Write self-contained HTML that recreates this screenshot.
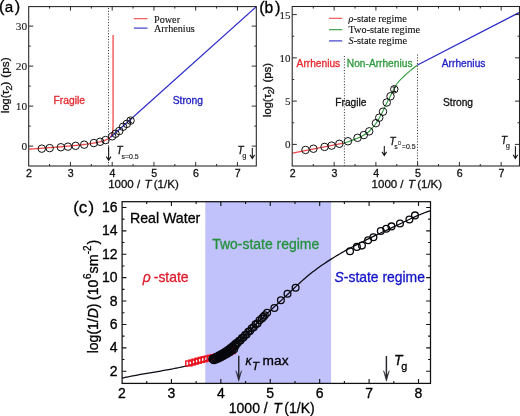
<!DOCTYPE html>
<html lang="en">
<head>
<meta charset="utf-8">
<title>Figure</title>
<style>
html,body{margin:0;padding:0;background:#fff;}
body{width:520px;height:416px;overflow:hidden;}
svg{display:block;}
text{stroke-width:0.3px;}
.sf{stroke-width:0.12px;}
</style>
</head>
<body>
<svg width="520" height="416" viewBox="0 0 520 416">
<rect width="520" height="416" fill="#ffffff"/>
<g id="panel-a">
<path d="M108.5,8V166" stroke="#3a3a3a" stroke-width="1" stroke-dasharray="1.1,1.7" fill="none"/>
<path d="M28.7,149.17L30.04,149.08L31.39,148.98L32.73,148.89L34.08,148.79L35.42,148.7L36.77,148.6L38.11,148.5L39.46,148.41L40.8,148.31L42.14,148.21L43.49,148.12L44.83,148.02L46.18,147.92L47.52,147.82L48.87,147.72L50.21,147.62L51.56,147.52L52.9,147.41L54.25,147.31L55.59,147.2L56.93,147.1L58.28,146.99L59.62,146.88L60.97,146.77L62.31,146.66L63.66,146.54L65,146.43L66.35,146.31L67.69,146.19L69.03,146.07L70.38,145.95L71.72,145.82L73.07,145.69L74.41,145.56L75.76,145.42L77.1,145.28L78.45,145.14L79.79,144.99L81.14,144.84L82.48,144.68L83.82,144.52L85.17,144.35L86.51,144.18L87.86,144L89.2,143.8L90.55,143.61L91.89,143.4L93.24,143.17L94.58,142.94L95.92,142.69L97.27,142.42L98.61,142.13L99.96,141.81L101.3,141.47L102.65,141.08L103.99,140.65L105.34,140.15L106.68,139.56L108.03,138.84L108.03,138.84L108.05,138.82L108.08,138.81L108.1,138.79L108.13,138.78L108.15,138.76L108.18,138.74L108.2,138.73L108.23,138.71L108.25,138.7L108.28,138.68L108.31,138.66L108.33,138.65L108.36,138.63L108.38,138.62L108.41,138.6L108.43,138.58L108.46,138.57L108.48,138.55L108.51,138.53L108.53,138.51L108.56,138.5L108.59,138.48L108.61,138.46L108.64,138.45L108.66,138.43L108.69,138.41L108.71,138.39L108.74,138.38L108.76,138.36L108.79,138.34L108.82,138.32L108.84,138.3L108.87,138.28L108.89,138.27L108.92,138.25L108.94,138.23L108.97,138.21L108.99,138.19L109.02,138.17L109.04,138.15L109.07,138.13L109.1,138.12L109.12,138.1L109.15,138.08L109.17,138.06L109.2,138.04L109.22,138.02L109.25,138L109.27,137.98L109.3,137.96L109.33,137.94L109.35,137.92L109.38,137.89L109.4,137.87L109.43,137.85L109.45,137.83L109.48,137.81L109.5,137.79L109.53,137.77L109.55,137.75L109.58,137.72L109.61,137.7L109.63,137.68L109.66,137.66L109.68,137.63L109.71,137.61L109.73,137.59L109.76,137.57L109.78,137.54L109.81,137.52L109.83,137.5L109.86,137.47L109.89,137.45L109.91,137.42L109.94,137.4L109.96,137.38L109.99,137.35L110.01,137.33L110.04,137.3L110.06,137.28L110.09,137.25L110.12,137.22L110.14,137.2L110.17,137.17L110.19,137.15L110.22,137.12L110.24,137.09L110.27,137.07L110.29,137.04L110.32,137.01L110.34,136.98L110.37,136.95L110.4,136.93L110.42,136.9L110.45,136.87L110.47,136.84L110.5,136.81L110.52,136.78L110.55,136.75L110.57,136.72L110.6,136.69L110.63,136.66L110.65,136.63L110.68,136.6L110.7,136.56L110.73,136.53L110.75,136.5L110.78,136.47L110.8,136.43L110.83,136.4L110.85,136.37L110.88,136.33L110.91,136.3L110.93,136.26L110.96,136.23L110.98,136.19L111.01,136.15L111.03,136.12L111.06,136.08L111.08,136.04L111.11,136L111.13,135.97L111.16,135.93L111.19,135.89L111.21,135.85L111.24,135.81L111.26,135.76L111.29,135.72L111.31,135.68L111.34,135.64L111.36,135.59L111.39,135.55L111.42,135.5L111.44,135.46L111.47,135.41L111.49,135.36L111.52,135.32L111.54,135.27L111.57,135.22L111.59,135.17L111.62,135.12L111.64,135.06L111.67,135.01L111.7,134.96L111.72,134.9L111.75,134.85L111.77,134.79L111.8,134.73L111.82,134.67L111.85,134.61L111.87,134.55L111.9,134.49L111.93,134.42L111.95,134.36L111.98,134.29L112,134.22L112.03,134.15L112.05,134.08L112.08,134.01L112.1,133.93L112.13,133.86L112.15,133.78L112.18,133.7L112.21,133.61L112.23,133.53L112.26,133.44L112.28,133.35L112.31,133.25L112.33,133.15L112.36,133.05L112.38,132.95L112.41,132.84L112.43,132.73L112.46,132.61L112.49,132.49L112.51,132.37L112.54,132.23L112.56,132.1L112.59,131.95L112.61,131.8L112.64,131.64L112.66,131.47L112.69,131.29L112.72,131.1L112.74,130.9L112.77,130.68L112.79,130.45L112.82,130.19L112.84,129.91L112.87,129.6L112.89,129.26L112.92,128.87L112.94,128.43L112.97,127.9L113,127.26L113.02,126.44L113.05,125.31L113.07,123.47L113.1,117.65L113.1,35.1" fill="none" stroke="#f04848" stroke-width="1.3" stroke-linejoin="round"/>
<path d="M110.6,137.2L256.3,6.6" fill="none" stroke="#2c2cc8" stroke-width="1.2"/>
<circle cx="41.81" cy="148.66" r="3.75" fill="none" stroke="#111" stroke-width="1.0"/>
<circle cx="49.7" cy="148.1" r="3.75" fill="none" stroke="#111" stroke-width="1.0"/>
<circle cx="60.85" cy="147.26" r="3.75" fill="none" stroke="#111" stroke-width="1.0"/>
<circle cx="67.94" cy="146.66" r="3.75" fill="none" stroke="#111" stroke-width="1.0"/>
<circle cx="75.67" cy="145.82" r="3.75" fill="none" stroke="#111" stroke-width="1.0"/>
<circle cx="84.23" cy="144.66" r="3.75" fill="none" stroke="#111" stroke-width="1.0"/>
<circle cx="93.83" cy="143.06" r="3.75" fill="none" stroke="#111" stroke-width="1.0"/>
<circle cx="100.09" cy="141.78" r="3.75" fill="none" stroke="#111" stroke-width="1.0"/>
<circle cx="105.52" cy="140.06" r="3.75" fill="none" stroke="#111" stroke-width="1.0"/>
<circle cx="112.2" cy="136.3" r="3.75" fill="none" stroke="#111" stroke-width="1.0"/>
<circle cx="115.54" cy="133.74" r="3.75" fill="none" stroke="#111" stroke-width="1.0"/>
<circle cx="119.3" cy="130.98" r="3.75" fill="none" stroke="#111" stroke-width="1.0"/>
<circle cx="123.05" cy="126.74" r="3.75" fill="none" stroke="#111" stroke-width="1.0"/>
<circle cx="126.81" cy="123.86" r="3.75" fill="none" stroke="#111" stroke-width="1.0"/>
<circle cx="130.57" cy="120.62" r="3.75" fill="none" stroke="#111" stroke-width="1.0"/>
<path d="M130.57,118.62v4M128.87,118.62h3.4M128.87,122.62h3.4" stroke="#111" stroke-width="0.9" fill="none"/>
<path d="M70.45,166v-4M70.45,6.6v4M112.2,166v-4M112.2,6.6v4M153.95,166v-4M153.95,6.6v4M195.7,166v-4M195.7,6.6v4M237.45,166v-4M237.45,6.6v4M49.58,166v-2M49.58,6.6v2M91.33,166v-2M91.33,6.6v2M133.07,166v-2M133.07,6.6v2M174.82,166v-2M174.82,6.6v2M216.57,166v-2M216.57,6.6v2M28.7,146.1h4.6M256.3,146.1h-4.6M28.7,106.1h4.6M256.3,106.1h-4.6M28.7,66.1h4.6M256.3,66.1h-4.6M28.7,26.1h4.6M256.3,26.1h-4.6M28.7,126.1h2M256.3,126.1h-2M28.7,86.1h2M256.3,86.1h-2M28.7,46.1h2M256.3,46.1h-2" fill="none" stroke="#222" stroke-width="0.95"/>
<rect x="28.7" y="6.6" width="227.6" height="159.4" fill="none" stroke="#222" stroke-width="1.05"/>
<text x="28.9" y="176.7" font-family='"Liberation Sans", Arial, Helvetica, sans-serif' font-size="10.6" text-anchor="middle" fill="#111" stroke="#111">2</text>
<text x="70.65" y="176.7" font-family='"Liberation Sans", Arial, Helvetica, sans-serif' font-size="10.6" text-anchor="middle" fill="#111" stroke="#111">3</text>
<text x="112.4" y="176.7" font-family='"Liberation Sans", Arial, Helvetica, sans-serif' font-size="10.6" text-anchor="middle" fill="#111" stroke="#111">4</text>
<text x="154.15" y="176.7" font-family='"Liberation Sans", Arial, Helvetica, sans-serif' font-size="10.6" text-anchor="middle" fill="#111" stroke="#111">5</text>
<text x="195.9" y="176.7" font-family='"Liberation Sans", Arial, Helvetica, sans-serif' font-size="10.6" text-anchor="middle" fill="#111" stroke="#111">6</text>
<text x="237.65" y="176.7" font-family='"Liberation Sans", Arial, Helvetica, sans-serif' font-size="10.6" text-anchor="middle" fill="#111" stroke="#111">7</text>
<text x="27.2" y="150" font-family='"Liberation Serif", "Times New Roman", serif' font-size="11.4" text-anchor="end" fill="#222" stroke="#222" class="sf">0</text>
<text x="27.2" y="110" font-family='"Liberation Serif", "Times New Roman", serif' font-size="11.4" text-anchor="end" fill="#222" stroke="#222" class="sf">10</text>
<text x="27.2" y="70" font-family='"Liberation Serif", "Times New Roman", serif' font-size="11.4" text-anchor="end" fill="#222" stroke="#222" class="sf">20</text>
<text x="27.2" y="30" font-family='"Liberation Serif", "Times New Roman", serif' font-size="11.4" text-anchor="end" fill="#222" stroke="#222" class="sf">30</text>
<text y="12.1" font-family='"Liberation Sans", Arial, Helvetica, sans-serif' font-size="15.6" fill="#000" stroke="#000"><tspan x="-0.9" font-size="16.3">(</tspan><tspan x="4.75" font-size="15.2">a</tspan><tspan x="14.7" font-size="16.3">)</tspan></text>
<text x="108.2" y="188" font-family='"Liberation Sans", Arial, Helvetica, sans-serif' font-size="11.5" fill="#111" stroke="#111">1000 / <tspan font-style="italic" dx="1.2">T</tspan><tspan dx="-1"> (1/K)</tspan></text>
<text transform="translate(9.2,113.0) rotate(-90)" font-family='"Liberation Sans", Arial, Helvetica, sans-serif' font-size="11" fill="#111" stroke="#111">log(<tspan font-size="11.5">τ</tspan><tspan font-size="9.2" dy="2.8" dx="-0.3">2</tspan><tspan dy="-2.8" x="27.6">)</tspan><tspan x="35.3" font-size="11.8">(ps)</tspan></text>
<path d="M133.8,18.7H147.5" stroke="#f04848" stroke-width="1.1"/>
<path d="M133.8,28.1H147.5" stroke="#2c2cc8" stroke-width="1.1"/>
<text x="154" y="22.5" font-family='"Liberation Serif", "Times New Roman", serif' font-size="10.2" fill="#111" stroke="#111" class="sf">Power</text>
<text x="154" y="31.5" font-family='"Liberation Serif", "Times New Roman", serif' font-size="10.2" fill="#111" stroke="#111" class="sf">Arrhenius</text>
<text x="53.5" y="103.5" font-family='"Liberation Sans", Arial, Helvetica, sans-serif' font-size="10.3" fill="#e4282e" stroke="#e4282e">Fragile</text>
<text x="172.7" y="103.5" font-family='"Liberation Sans", Arial, Helvetica, sans-serif' font-size="10.3" fill="#1c1cc4" stroke="#1c1cc4">Strong</text>
<path d="M108.65,146.5V160.2M106.35,156.6L108.65,160.2L110.95,156.6" fill="none" stroke="#111" stroke-width="1.05"/>
<text x="116.6" y="154.1" font-family='"Liberation Sans", Arial, Helvetica, sans-serif' font-size="10" fill="#111" stroke="#111"><tspan font-style="italic">T</tspan><tspan stroke-width="0.1" font-size="7" dy="5" dx="-1.3">s=0.5</tspan></text>
<text x="237.4" y="153.8" font-family='"Liberation Sans", Arial, Helvetica, sans-serif' font-size="10" fill="#111" stroke="#111"><tspan font-style="italic">T</tspan><tspan stroke-width="0.12" font-size="7.5" dy="4.3" dx="-1.3">g</tspan></text>
<path d="M252.3,148V158.5M250,154.9L252.3,158.5L254.6,154.9" fill="none" stroke="#111" stroke-width="1.05"/>
</g>
<g id="panel-b">
<path d="M344.4,56V166M417.5,54.5V166" stroke="#3a3a3a" stroke-width="1" stroke-dasharray="1.1,1.7" fill="none"/>
<path d="M292.4,153.1L343.5,143.1" stroke="#f04848" stroke-width="1.2" fill="none"/>
<path d="M343.5,143.1C344.18,142.92 345.31,142.8 347.6,142C349.89,141.2 354.6,139.42 357.25,138.3C359.9,137.18 361.54,136.43 363.5,135.3C365.46,134.17 366.98,133.38 369,131.5C371.02,129.62 373.93,126.17 375.6,124C377.27,121.83 377.85,120.5 379,118.5C380.15,116.5 381.29,114.42 382.5,112C383.71,109.58 384.96,106.58 386.25,104C387.54,101.42 389,98.92 390.25,96.5C391.5,94.08 392.54,91.75 393.75,89.5C394.96,87.25 395.83,85.17 397.5,83C399.17,80.83 401.67,78.52 403.75,76.5C405.83,74.48 407.71,72.82 410,70.9C412.29,68.98 416.25,65.98 417.5,65" stroke="#2e9a3c" stroke-width="1.1" fill="none"/>
<path d="M417.5,65L519.6,12.3" stroke="#2c2cc8" stroke-width="1.3" fill="none"/>
<circle cx="305.51" cy="149.94" r="3.75" fill="none" stroke="#111" stroke-width="1.0"/>
<circle cx="313.4" cy="148.73" r="3.75" fill="none" stroke="#111" stroke-width="1.0"/>
<circle cx="324.55" cy="146.91" r="3.75" fill="none" stroke="#111" stroke-width="1.0"/>
<circle cx="331.64" cy="145.61" r="3.75" fill="none" stroke="#111" stroke-width="1.0"/>
<circle cx="339.37" cy="143.79" r="3.75" fill="none" stroke="#111" stroke-width="1.0"/>
<circle cx="347.93" cy="141.28" r="3.75" fill="none" stroke="#111" stroke-width="1.0"/>
<circle cx="357.53" cy="137.82" r="3.75" fill="none" stroke="#111" stroke-width="1.0"/>
<circle cx="363.79" cy="135.05" r="3.75" fill="none" stroke="#111" stroke-width="1.0"/>
<circle cx="369.22" cy="131.33" r="3.75" fill="none" stroke="#111" stroke-width="1.0"/>
<circle cx="375.9" cy="123.2" r="3.75" fill="none" stroke="#111" stroke-width="1.0"/>
<circle cx="379.24" cy="117.66" r="3.75" fill="none" stroke="#111" stroke-width="1.0"/>
<circle cx="383" cy="111.68" r="3.75" fill="none" stroke="#111" stroke-width="1.0"/>
<circle cx="386.75" cy="102.51" r="3.75" fill="none" stroke="#111" stroke-width="1.0"/>
<circle cx="390.51" cy="96.28" r="3.75" fill="none" stroke="#111" stroke-width="1.0"/>
<circle cx="394.27" cy="89.27" r="3.75" fill="none" stroke="#111" stroke-width="1.0"/>
<path d="M394.27,87.07v4.4M392.37,87.07h3.8M392.37,91.47h3.8" stroke="#111" stroke-width="0.95" fill="none"/>
<path d="M334.15,166v-4M334.15,6.5v4M375.9,166v-4M375.9,6.5v4M417.65,166v-4M417.65,6.5v4M459.4,166v-4M459.4,6.5v4M501.15,166v-4M501.15,6.5v4M313.27,166v-2M313.27,6.5v2M355.02,166v-2M355.02,6.5v2M396.77,166v-2M396.77,6.5v2M438.52,166v-2M438.52,6.5v2M480.27,166v-2M480.27,6.5v2M292.2,144.4h4.6M519.5,144.4h-4.6M292.2,101.12h4.6M519.5,101.12h-4.6M292.2,57.85h4.6M519.5,57.85h-4.6M292.2,14.58h4.6M519.5,14.58h-4.6M292.2,122.76h2M519.5,122.76h-2M292.2,79.49h2M519.5,79.49h-2M292.2,36.21h2M519.5,36.21h-2" fill="none" stroke="#222" stroke-width="0.95"/>
<rect x="292.2" y="6.5" width="227.3" height="159.5" fill="none" stroke="#222" stroke-width="1.05"/>
<text x="292.6" y="176.7" font-family='"Liberation Sans", Arial, Helvetica, sans-serif' font-size="10.6" text-anchor="middle" fill="#111" stroke="#111">2</text>
<text x="334.35" y="176.7" font-family='"Liberation Sans", Arial, Helvetica, sans-serif' font-size="10.6" text-anchor="middle" fill="#111" stroke="#111">3</text>
<text x="376.1" y="176.7" font-family='"Liberation Sans", Arial, Helvetica, sans-serif' font-size="10.6" text-anchor="middle" fill="#111" stroke="#111">4</text>
<text x="417.85" y="176.7" font-family='"Liberation Sans", Arial, Helvetica, sans-serif' font-size="10.6" text-anchor="middle" fill="#111" stroke="#111">5</text>
<text x="459.6" y="176.7" font-family='"Liberation Sans", Arial, Helvetica, sans-serif' font-size="10.6" text-anchor="middle" fill="#111" stroke="#111">6</text>
<text x="501.35" y="176.7" font-family='"Liberation Sans", Arial, Helvetica, sans-serif' font-size="10.6" text-anchor="middle" fill="#111" stroke="#111">7</text>
<text x="290.6" y="148.35" font-family='"Liberation Serif", "Times New Roman", serif' font-size="11" text-anchor="end" fill="#222" stroke="#222" class="sf">0</text>
<text x="290.6" y="105.08" font-family='"Liberation Serif", "Times New Roman", serif' font-size="11" text-anchor="end" fill="#222" stroke="#222" class="sf">5</text>
<text x="290.6" y="61.8" font-family='"Liberation Serif", "Times New Roman", serif' font-size="11" text-anchor="end" fill="#222" stroke="#222" class="sf">10</text>
<text x="290.6" y="18.53" font-family='"Liberation Serif", "Times New Roman", serif' font-size="11" text-anchor="end" fill="#222" stroke="#222" class="sf">15</text>
<text y="12.6" font-family='"Liberation Sans", Arial, Helvetica, sans-serif' font-size="15.6" fill="#000" stroke="#000"><tspan x="259.2" font-size="16.5">(</tspan><tspan x="264.6" font-size="15.6">b</tspan><tspan x="274.9" font-size="16.5">)</tspan></text>
<text x="371.6" y="188" font-family='"Liberation Sans", Arial, Helvetica, sans-serif' font-size="11.5" fill="#111" stroke="#111">1000 / <tspan font-style="italic" dx="1.2">T</tspan><tspan dx="-1"> (1/K)</tspan></text>
<text transform="translate(271.3,116.9) rotate(-90)" font-family='"Liberation Sans", Arial, Helvetica, sans-serif' font-size="11" fill="#111" stroke="#111">log(<tspan font-size="11.5">τ</tspan><tspan font-size="9.2" dy="2.8" dx="-0.3">2</tspan><tspan dy="-2.8" x="26.9">)</tspan><tspan x="34.3" font-size="11.5">(ps)</tspan></text>
<path d="M329,18.3H342.2" stroke="#f04848" stroke-width="1.1"/>
<path d="M329,29.7H342.2" stroke="#2e9a3c" stroke-width="1.1"/>
<path d="M329,40.9H342.2" stroke="#2c2cc8" stroke-width="1.1"/>
<text x="348.5" y="21.5" font-family='"Liberation Serif", "Times New Roman", serif' font-size="10.3" fill="#111" stroke="#111" class="sf"><tspan font-style="italic">ρ</tspan>-state regime</text>
<text x="348.5" y="32.5" font-family='"Liberation Serif", "Times New Roman", serif' font-size="10.3" fill="#111" stroke="#111" class="sf">Two-state regime</text>
<text x="348.5" y="43.5" font-family='"Liberation Serif", "Times New Roman", serif' font-size="10.3" fill="#111" stroke="#111" class="sf"><tspan font-style="italic">S</tspan>-state regime</text>
<text x="296.6" y="67.3" font-family='"Liberation Sans", Arial, Helvetica, sans-serif' font-size="10.2" fill="#e4282e" stroke="#e4282e">Arrhenius</text>
<text x="346.8" y="67.3" font-family='"Liberation Sans", Arial, Helvetica, sans-serif' font-size="10.2" fill="#2e9a3c" stroke="#2e9a3c">Non-Arrhenius</text>
<text x="441.8" y="67.1" font-family='"Liberation Sans", Arial, Helvetica, sans-serif' font-size="10.2" fill="#1c1cc4" stroke="#1c1cc4">Arrhenius</text>
<text x="335.3" y="105.5" font-family='"Liberation Sans", Arial, Helvetica, sans-serif' font-size="10.2" fill="#111" stroke="#111">Fragile</text>
<text x="443" y="105.5" font-family='"Liberation Sans", Arial, Helvetica, sans-serif' font-size="10.2" fill="#111" stroke="#111">Strong</text>
<path d="M384.3,146V155.5M382,151.9L384.3,155.5L386.6,151.9" fill="none" stroke="#111" stroke-width="1.05"/>
<text x="389.4" y="145.1" font-family='"Liberation Sans", Arial, Helvetica, sans-serif' font-size="10" fill="#111" stroke="#111"><tspan font-style="italic">T</tspan><tspan stroke-width="0.1" font-size="7" dy="3.6" dx="-1.3">s</tspan><tspan stroke-width="0.05" font-size="4.5" dy="-3.3" dx="0.3">D</tspan><tspan stroke-width="0.1" font-size="7" dy="3.3" dx="0.6">=0.5</tspan></text>
<text x="501" y="143.6" font-family='"Liberation Sans", Arial, Helvetica, sans-serif' font-size="10" fill="#111" stroke="#111"><tspan font-style="italic">T</tspan><tspan stroke-width="0.12" font-size="7.5" dy="4.3" dx="-1.3">g</tspan></text>
<path d="M515.4,146.3V158.4M513.1,154.8L515.4,158.4L517.7,154.8" fill="none" stroke="#111" stroke-width="1.05"/>
</g>
<g id="panel-c">
<rect x="205.3" y="201.7" width="125.8" height="181.7" fill="#c1c1fc"/>
<path d="M122,378.11L123.55,377.77L125.1,377.44L126.66,377.12L128.21,376.8L129.76,376.49L131.31,376.19L132.86,375.89L134.41,375.59L135.97,375.31L137.52,375.02L139.07,374.74L140.62,374.47L142.17,374.19L143.72,373.92L145.28,373.65L146.83,373.39L148.38,373.12L149.93,372.86L151.48,372.6L153.04,372.33L154.59,372.07L156.14,371.81L157.69,371.54L159.24,371.28L160.79,371.01L162.35,370.74L163.9,370.47L165.45,370.19L167,369.91L168.55,369.63L170.1,369.34L171.66,369.05L173.21,368.76L174.76,368.45L176.31,368.14L177.86,367.83L179.42,367.51L180.97,367.18L182.52,366.84L184.07,366.49L185.62,366.14L187.17,365.78L188.73,365.4L190.28,365.02L191.83,364.63L193.38,364.23L194.93,363.81L196.48,363.39L198.04,362.95L199.59,362.5L201.14,362.04L202.69,361.56L204.24,361.07L205.79,360.55L207.35,360.02L208.9,359.46L210.45,358.88L212,358.27L213.55,357.64L215.11,356.97L216.66,356.26L218.21,355.53L219.76,354.75L221.31,353.93L222.86,353.07L224.42,352.17L225.97,351.22L227.52,350.22L229.07,349.18L230.62,348.08L232.17,346.92L233.73,345.71L235.28,344.44L236.83,343.11L238.38,341.74L239.93,340.32L241.49,338.87L243.04,337.38L244.59,335.86L246.14,334.32L247.69,332.76L249.24,331.19L250.8,329.61L252.35,328.03L253.9,326.45L255.45,324.87L257,323.31L258.55,321.77L260.11,320.24L261.66,318.73L263.21,317.24L264.76,315.76L266.31,314.29L267.87,312.83L269.42,311.38L270.97,309.94L272.52,308.49L274.07,307.06L275.62,305.62L277.18,304.18L278.73,302.74L280.28,301.29L281.83,299.83L283.38,298.37L284.93,296.9L286.49,295.43L288.04,293.96L289.59,292.48L291.14,291.01L292.69,289.54L294.25,288.07L295.8,286.61L297.35,285.15L298.9,283.71L300.45,282.28L302,280.88L303.56,279.5L305.11,278.16L306.66,276.84L308.21,275.55L309.76,274.28L311.31,273.04L312.87,271.83L314.42,270.64L315.97,269.47L317.52,268.32L319.07,267.2L320.63,266.1L322.18,265.01L323.73,263.95L325.28,262.91L326.83,261.88L328.38,260.87L329.94,259.87L331.49,258.89L333.04,257.92L334.59,256.97L336.14,256.03L337.69,255.1L339.25,254.19L340.8,253.29L342.35,252.4L343.9,251.52L345.45,250.65L347.01,249.79L348.56,248.94L350.11,248.11L351.66,247.28L353.21,246.46L354.76,245.65L356.32,244.84L357.87,244.05L359.42,243.26L360.97,242.48L362.52,241.7L364.07,240.94L365.63,240.17L367.18,239.41L368.73,238.66L370.28,237.91L371.83,237.17L373.38,236.42L374.94,235.69L376.49,234.95L378.04,234.22L379.59,233.49L381.14,232.76L382.7,232.03L384.25,231.3L385.8,230.57L387.35,229.84L388.9,229.12L390.45,228.39L392.01,227.66L393.56,226.92L395.11,226.19L396.66,225.45L398.21,224.71L399.76,223.97L401.32,223.22L402.87,222.47L404.42,221.72L405.97,220.98L407.52,220.23L409.08,219.49L410.63,218.76L412.18,218.03L413.73,217.32L415.28,216.62L416.83,215.93L418.39,215.25L419.94,214.6L421.49,213.96L423.04,213.35L424.59,212.76L426.14,212.19L427.7,211.65L429.25,211.14L430.8,210.66" stroke="#0a0a14" stroke-width="1.25" fill="none" stroke-linejoin="round"/>
<rect x="185.75" y="361" width="6.2" height="4.9" fill="none" stroke="#ee1420" stroke-width="1.4"/>
<rect x="188.85" y="360.1" width="6.2" height="4.9" fill="none" stroke="#ee1420" stroke-width="1.4"/>
<rect x="191.95" y="359.19" width="6.2" height="4.9" fill="none" stroke="#ee1420" stroke-width="1.4"/>
<rect x="195.05" y="358.29" width="6.2" height="4.9" fill="none" stroke="#ee1420" stroke-width="1.4"/>
<rect x="198.15" y="357.46" width="6.2" height="4.9" fill="none" stroke="#ee1420" stroke-width="1.4"/>
<rect x="201.25" y="356.75" width="6.2" height="4.9" fill="none" stroke="#ee1420" stroke-width="1.4"/>
<rect x="204.35" y="356.04" width="6.2" height="4.9" fill="none" stroke="#ee1420" stroke-width="1.4"/>
<rect x="207.45" y="355.33" width="6.2" height="4.9" fill="none" stroke="#ee1420" stroke-width="1.4"/>
<rect x="210.55" y="354.67" width="6.2" height="4.9" fill="none" stroke="#ee1420" stroke-width="1.4"/>
<rect x="213.65" y="354.01" width="6.2" height="4.9" fill="none" stroke="#ee1420" stroke-width="1.4"/>
<rect x="216.75" y="353.17" width="6.2" height="4.9" fill="none" stroke="#ee1420" stroke-width="1.4"/>
<rect x="219.85" y="352.28" width="6.2" height="4.9" fill="none" stroke="#ee1420" stroke-width="1.4"/>
<rect x="222.95" y="351.17" width="6.2" height="4.9" fill="none" stroke="#ee1420" stroke-width="1.4"/>
<rect x="226.05" y="349.98" width="6.2" height="4.9" fill="none" stroke="#ee1420" stroke-width="1.4"/>
<rect x="229.15" y="348.56" width="6.2" height="4.9" fill="none" stroke="#ee1420" stroke-width="1.4"/>
<circle cx="212.4" cy="358.81" r="3.4" fill="none" stroke="#08080c" stroke-width="1.3"/>
<circle cx="213.15" cy="359.5" r="3.4" fill="none" stroke="#08080c" stroke-width="1.3"/>
<circle cx="213.9" cy="360.26" r="3.4" fill="none" stroke="#08080c" stroke-width="1.3"/>
<circle cx="214.65" cy="357.75" r="3.4" fill="none" stroke="#08080c" stroke-width="1.3"/>
<circle cx="215.4" cy="358.53" r="3.4" fill="none" stroke="#08080c" stroke-width="1.3"/>
<circle cx="216.15" cy="359.39" r="3.4" fill="none" stroke="#08080c" stroke-width="1.3"/>
<circle cx="216.9" cy="356.62" r="3.4" fill="none" stroke="#08080c" stroke-width="1.3"/>
<circle cx="217.65" cy="357.49" r="3.4" fill="none" stroke="#08080c" stroke-width="1.3"/>
<circle cx="218.4" cy="358.44" r="3.4" fill="none" stroke="#08080c" stroke-width="1.3"/>
<circle cx="219.15" cy="355.41" r="3.4" fill="none" stroke="#08080c" stroke-width="1.3"/>
<circle cx="219.9" cy="356.38" r="3.4" fill="none" stroke="#08080c" stroke-width="1.3"/>
<circle cx="220.65" cy="357.4" r="3.4" fill="none" stroke="#08080c" stroke-width="1.3"/>
<circle cx="221.4" cy="354.13" r="3.4" fill="none" stroke="#08080c" stroke-width="1.3"/>
<circle cx="222.15" cy="355.17" r="3.4" fill="none" stroke="#08080c" stroke-width="1.3"/>
<circle cx="222.9" cy="356.29" r="3.4" fill="none" stroke="#08080c" stroke-width="1.3"/>
<circle cx="223.65" cy="352.75" r="3.4" fill="none" stroke="#08080c" stroke-width="1.3"/>
<circle cx="224.4" cy="353.88" r="3.4" fill="none" stroke="#08080c" stroke-width="1.3"/>
<circle cx="225.15" cy="355.07" r="3.4" fill="none" stroke="#08080c" stroke-width="1.3"/>
<circle cx="225.9" cy="351.28" r="3.4" fill="none" stroke="#08080c" stroke-width="1.3"/>
<circle cx="226.65" cy="352.48" r="3.4" fill="none" stroke="#08080c" stroke-width="1.3"/>
<circle cx="227.4" cy="353.76" r="3.4" fill="none" stroke="#08080c" stroke-width="1.3"/>
<circle cx="228.15" cy="349.7" r="3.4" fill="none" stroke="#08080c" stroke-width="1.3"/>
<circle cx="228.9" cy="350.99" r="3.4" fill="none" stroke="#08080c" stroke-width="1.3"/>
<circle cx="229.65" cy="352.34" r="3.4" fill="none" stroke="#08080c" stroke-width="1.3"/>
<circle cx="230.4" cy="348.02" r="3.4" fill="none" stroke="#08080c" stroke-width="1.3"/>
<circle cx="231.15" cy="349.38" r="3.4" fill="none" stroke="#08080c" stroke-width="1.3"/>
<circle cx="231.9" cy="350.82" r="3.4" fill="none" stroke="#08080c" stroke-width="1.3"/>
<circle cx="232.65" cy="346.22" r="3.4" fill="none" stroke="#08080c" stroke-width="1.3"/>
<circle cx="233.4" cy="347.66" r="3.4" fill="none" stroke="#08080c" stroke-width="1.3"/>
<circle cx="234.15" cy="349.17" r="3.4" fill="none" stroke="#08080c" stroke-width="1.3"/>
<circle cx="234.9" cy="344.3" r="3.4" fill="none" stroke="#08080c" stroke-width="1.3"/>
<circle cx="235.65" cy="345.82" r="3.4" fill="none" stroke="#08080c" stroke-width="1.3"/>
<circle cx="236.4" cy="343.08" r="3.4" fill="none" stroke="#08080c" stroke-width="1.3"/>
<circle cx="237.71" cy="342.93" r="3.4" fill="none" stroke="#08080c" stroke-width="1.3"/>
<circle cx="239.07" cy="340.71" r="3.4" fill="none" stroke="#08080c" stroke-width="1.3"/>
<circle cx="240.48" cy="340.41" r="3.4" fill="none" stroke="#08080c" stroke-width="1.3"/>
<circle cx="241.93" cy="338.04" r="3.4" fill="none" stroke="#08080c" stroke-width="1.3"/>
<circle cx="243.44" cy="337.59" r="3.4" fill="none" stroke="#08080c" stroke-width="1.3"/>
<circle cx="245" cy="335.06" r="3.4" fill="none" stroke="#08080c" stroke-width="1.3"/>
<circle cx="246.61" cy="334.45" r="3.4" fill="none" stroke="#08080c" stroke-width="1.3"/>
<circle cx="248.28" cy="331.77" r="3.4" fill="none" stroke="#08080c" stroke-width="1.3"/>
<circle cx="250" cy="331.02" r="3.4" fill="none" stroke="#08080c" stroke-width="1.3"/>
<circle cx="251.79" cy="328.2" r="3.4" fill="none" stroke="#08080c" stroke-width="1.3"/>
<circle cx="253.63" cy="327.32" r="3.4" fill="none" stroke="#08080c" stroke-width="1.3"/>
<circle cx="255.54" cy="324.38" r="3.4" fill="none" stroke="#08080c" stroke-width="1.3"/>
<circle cx="257.52" cy="323.4" r="3.4" fill="none" stroke="#08080c" stroke-width="1.3"/>
<circle cx="259.56" cy="320.37" r="3.4" fill="none" stroke="#08080c" stroke-width="1.3"/>
<circle cx="261.9" cy="318.6" r="3.4" fill="none" stroke="#08080c" stroke-width="1.3"/>
<circle cx="263.3" cy="316.9" r="3.4" fill="none" stroke="#08080c" stroke-width="1.3"/>
<circle cx="264.8" cy="315.2" r="3.4" fill="none" stroke="#08080c" stroke-width="1.3"/>
<circle cx="267.1" cy="312.7" r="3.4" fill="none" stroke="#08080c" stroke-width="1.3"/>
<circle cx="274.4" cy="308" r="3.4" fill="none" stroke="#08080c" stroke-width="1.3"/>
<circle cx="280.9" cy="300.3" r="3.4" fill="none" stroke="#08080c" stroke-width="1.3"/>
<circle cx="287.5" cy="293.75" r="3.4" fill="none" stroke="#08080c" stroke-width="1.3"/>
<circle cx="295.6" cy="287.75" r="3.4" fill="none" stroke="#08080c" stroke-width="1.3"/>
<circle cx="350" cy="251.25" r="3.4" fill="none" stroke="#08080c" stroke-width="1.3"/>
<circle cx="356.9" cy="246.9" r="3.4" fill="none" stroke="#08080c" stroke-width="1.3"/>
<circle cx="361.9" cy="245.6" r="3.4" fill="none" stroke="#08080c" stroke-width="1.3"/>
<circle cx="368.1" cy="240.2" r="3.4" fill="none" stroke="#08080c" stroke-width="1.3"/>
<circle cx="373.4" cy="237.2" r="3.4" fill="none" stroke="#08080c" stroke-width="1.3"/>
<circle cx="380.8" cy="231" r="3.4" fill="none" stroke="#08080c" stroke-width="1.3"/>
<circle cx="386.25" cy="228.75" r="3.4" fill="none" stroke="#08080c" stroke-width="1.3"/>
<circle cx="391.5" cy="226.4" r="3.4" fill="none" stroke="#08080c" stroke-width="1.3"/>
<circle cx="400" cy="223.5" r="3.4" fill="none" stroke="#08080c" stroke-width="1.3"/>
<circle cx="409.4" cy="219.5" r="3.4" fill="none" stroke="#08080c" stroke-width="1.3"/>
<circle cx="415" cy="215.4" r="3.4" fill="none" stroke="#08080c" stroke-width="1.3"/>
<path d="M171.42,383.4v-4.3M171.42,201.7v4.3M220.84,383.4v-4.3M220.84,201.7v4.3M270.26,383.4v-4.3M270.26,201.7v4.3M319.68,383.4v-4.3M319.68,201.7v4.3M369.1,383.4v-4.3M369.1,201.7v4.3M418.52,383.4v-4.3M418.52,201.7v4.3M146.71,383.4v-2.4M146.71,201.7v2.4M196.13,383.4v-2.4M196.13,201.7v2.4M245.55,383.4v-2.4M245.55,201.7v2.4M294.97,383.4v-2.4M294.97,201.7v2.4M344.39,383.4v-2.4M344.39,201.7v2.4M393.81,383.4v-2.4M393.81,201.7v2.4M122.1,371.25h4.3M430.5,371.25h-4.3M122.1,347.85h4.3M430.5,347.85h-4.3M122.1,324.45h4.3M430.5,324.45h-4.3M122.1,301.05h4.3M430.5,301.05h-4.3M122.1,277.65h4.3M430.5,277.65h-4.3M122.1,254.25h4.3M430.5,254.25h-4.3M122.1,230.85h4.3M430.5,230.85h-4.3M122.1,207.45h4.3M430.5,207.45h-4.3M122.1,359.55h2.4M430.5,359.55h-2.4M122.1,336.15h2.4M430.5,336.15h-2.4M122.1,312.75h2.4M430.5,312.75h-2.4M122.1,289.35h2.4M430.5,289.35h-2.4M122.1,265.95h2.4M430.5,265.95h-2.4M122.1,242.55h2.4M430.5,242.55h-2.4M122.1,219.15h2.4M430.5,219.15h-2.4" fill="none" stroke="#111" stroke-width="1.12"/>
<rect x="122.1" y="201.7" width="308.4" height="181.7" fill="none" stroke="#111" stroke-width="1.25"/>
<text x="122" y="397.9" font-family='"Liberation Sans", Arial, Helvetica, sans-serif' font-size="14" text-anchor="middle" fill="#000" stroke="#000">2</text>
<text x="171.42" y="397.9" font-family='"Liberation Sans", Arial, Helvetica, sans-serif' font-size="14" text-anchor="middle" fill="#000" stroke="#000">3</text>
<text x="220.84" y="397.9" font-family='"Liberation Sans", Arial, Helvetica, sans-serif' font-size="14" text-anchor="middle" fill="#000" stroke="#000">4</text>
<text x="270.26" y="397.9" font-family='"Liberation Sans", Arial, Helvetica, sans-serif' font-size="14" text-anchor="middle" fill="#000" stroke="#000">5</text>
<text x="319.68" y="397.9" font-family='"Liberation Sans", Arial, Helvetica, sans-serif' font-size="14" text-anchor="middle" fill="#000" stroke="#000">6</text>
<text x="369.1" y="397.9" font-family='"Liberation Sans", Arial, Helvetica, sans-serif' font-size="14" text-anchor="middle" fill="#000" stroke="#000">7</text>
<text x="418.52" y="397.9" font-family='"Liberation Sans", Arial, Helvetica, sans-serif' font-size="14" text-anchor="middle" fill="#000" stroke="#000">8</text>
<text x="117.6" y="375.85" font-family='"Liberation Sans", Arial, Helvetica, sans-serif' font-size="14" text-anchor="end" fill="#000" stroke="#000">2</text>
<text x="117.6" y="352.45" font-family='"Liberation Sans", Arial, Helvetica, sans-serif' font-size="14" text-anchor="end" fill="#000" stroke="#000">4</text>
<text x="117.6" y="329.05" font-family='"Liberation Sans", Arial, Helvetica, sans-serif' font-size="14" text-anchor="end" fill="#000" stroke="#000">6</text>
<text x="117.6" y="305.65" font-family='"Liberation Sans", Arial, Helvetica, sans-serif' font-size="14" text-anchor="end" fill="#000" stroke="#000">8</text>
<text x="117.6" y="282.25" font-family='"Liberation Sans", Arial, Helvetica, sans-serif' font-size="14" text-anchor="end" fill="#000" stroke="#000">10</text>
<text x="117.6" y="258.85" font-family='"Liberation Sans", Arial, Helvetica, sans-serif' font-size="14" text-anchor="end" fill="#000" stroke="#000">12</text>
<text x="117.6" y="235.45" font-family='"Liberation Sans", Arial, Helvetica, sans-serif' font-size="14" text-anchor="end" fill="#000" stroke="#000">14</text>
<text x="117.6" y="212.05" font-family='"Liberation Sans", Arial, Helvetica, sans-serif' font-size="14" text-anchor="end" fill="#000" stroke="#000">16</text>
<text y="212.6" font-family='"Liberation Sans", Arial, Helvetica, sans-serif' font-size="16.8" fill="#000" stroke="#000"><tspan x="73.2">(</tspan><tspan x="78.7">c</tspan><tspan x="88.5">)</tspan></text>
<text x="228.8" y="412.7" font-family='"Liberation Sans", Arial, Helvetica, sans-serif' font-size="14" fill="#000" stroke="#000">1000 / <tspan font-style="italic" dx="1.5">T</tspan><tspan dx="-1.2"> (1/K)</tspan></text>
<text transform="translate(98.1,353.3) rotate(-90)" font-family='"Liberation Sans", Arial, Helvetica, sans-serif' font-size="14" fill="#000" stroke="#000">log(1/<tspan font-style="italic">D</tspan>)<tspan x="53.4">(10</tspan><tspan font-size="10" x="74.2" dy="-7.4">6</tspan><tspan x="79.9" dy="7.4" font-size="14.3">sm</tspan><tspan font-size="10" x="99.0" dy="-7.4">-2</tspan><tspan x="108.8" dy="7.4">)</tspan></text>
<text x="129.9" y="223.4" font-family='"Liberation Sans", Arial, Helvetica, sans-serif' font-size="14.2" fill="#000" stroke="#000">Real Water</text>
<text x="212.3" y="249.2" font-family='"Liberation Sans", Arial, Helvetica, sans-serif' font-size="13.95" fill="#23923a" stroke="#23923a">Two-state regime</text>
<text x="142.8" y="282" font-family='"Liberation Sans", Arial, Helvetica, sans-serif' font-size="13.9" fill="#dc1c2c" stroke="#dc1c2c"><tspan font-style="italic">ρ</tspan><tspan dx="3">-state</tspan></text>
<text x="334.6" y="282.2" font-family='"Liberation Sans", Arial, Helvetica, sans-serif' font-size="13.9" fill="#1414c8" stroke="#1414c8"><tspan font-style="italic">S</tspan>-state regime</text>
<path d="M238.75,355.8V378.2" stroke="#26262e" stroke-width="1.45" fill="none"/>
<path d="M235.85,370.7L238.75,376.47L241.65,370.7L238.75,381.2Z" fill="#26262e" stroke="#26262e" stroke-width="0.5"/>
<path d="M386.4,356V378.2" stroke="#26262e" stroke-width="1.45" fill="none"/>
<path d="M383.5,370.7L386.4,376.47L389.3,370.7L386.4,381.2Z" fill="#26262e" stroke="#26262e" stroke-width="0.5"/>
<text x="245.5" y="365.2" font-family='"Liberation Sans", Arial, Helvetica, sans-serif' font-size="13.7" fill="#000" stroke="#000"><tspan font-style="italic" font-size="12.2">κ</tspan><tspan font-style="italic" font-size="11.5" dy="4.8" dx="0.4">T</tspan><tspan dy="-4.8" dx="-0.2"> max</tspan></text>
<text x="393.9" y="365.2" font-family='"Liberation Sans", Arial, Helvetica, sans-serif' font-size="13.9" fill="#000" stroke="#000"><tspan font-style="italic">T</tspan><tspan font-size="10.8" dy="4.6" dx="-1.2">g</tspan></text>
</g>
</svg>
</body>
</html>
